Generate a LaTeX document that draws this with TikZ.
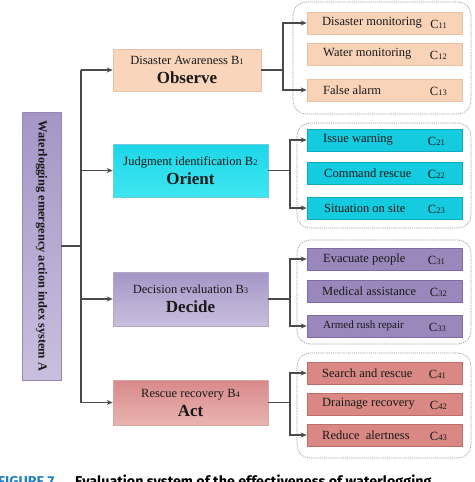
\documentclass[tikz,border=0pt]{standalone}
\usepackage{fontspec}
\setmainfont{Liberation Serif}
\newfontfamily\capfont{Fira Sans}
\usetikzlibrary{arrows.meta}
\definecolor{peachA}{HTML}{F9D5BC}
\definecolor{peachB}{HTML}{F8D3B8}
\definecolor{peachL}{HTML}{E9C0A3}
\definecolor{cyanT}{HTML}{1DD6E7}
\definecolor{cyanB}{HTML}{3FE6F1}
\definecolor{cyanC}{HTML}{14CBDF}
\definecolor{cyanL}{HTML}{0FAABD}
\definecolor{lavT}{HTML}{A596C6}
\definecolor{lavB}{HTML}{C9BFDE}
\definecolor{lavC}{HTML}{9A87BB}
\definecolor{lavL}{HTML}{7E6BA0}
\definecolor{salT}{HTML}{D8898A}
\definecolor{salB}{HTML}{E9B4B0}
\definecolor{salC}{HTML}{D98884}
\definecolor{salL}{HTML}{BE6D69}
\definecolor{lineC}{HTML}{4A4A4A}
\definecolor{grpC}{HTML}{9A9A9A}
\definecolor{capblue}{HTML}{1F7FC1}
\newcommand{\sbs}[1]{{\fontsize{8.5}{8.5}\selectfont #1}}
\newcommand{\btxt}[2]{#1\\{\fontsize{17}{19}\selectfont\bfseries #2}}
\tikzset{
  bnode/.style={draw=#1, line width=0.6pt, minimum width=155pt, align=center, inner sep=0pt, text=black!90, font=\fontsize{12.5}{19}\selectfont},
  cnode/.style={draw=#1, line width=0.6pt, minimum width=155pt, minimum height=22pt, inner sep=0pt},
  ctext/.style={anchor=west, font=\fontsize{12.5}{14}\selectfont, text=black!90, inner sep=0pt},
  clab/.style={anchor=east, font=\fontsize{12.5}{14}\selectfont, text=black!90, inner sep=0pt},
  grp/.style={draw=grpC, line width=0.6pt, dash pattern=on 1.2pt off 0.9pt, rounded corners=13pt, inner sep=0pt},
  ln/.style={draw=lineC, line width=1.1pt},
  arr/.style={ln, -{Stealth[length=6pt, width=5pt]}},
}
\begin{document}
\begin{tikzpicture}[x=1pt,y=-1pt]
\useasboundingbox (0,0) rectangle (474,482);
% dashed groups
\node[grp, minimum width=178pt, minimum height=112pt] (G1) at (382,58) {};
\node[grp, minimum width=174pt, minimum height=105pt] (G2) at (384,175.5) {};
\node[grp, minimum width=174pt, minimum height=104pt] (G3) at (384,292) {};
\node[grp, minimum width=174pt, minimum height=105pt] (G4) at (384,405.5) {};
% A box
\node[draw=lavL!80, line width=0.6pt, top color=lavT, bottom color=lavB, minimum width=39pt, minimum height=268pt, inner sep=0pt] (A) at (41.5,246) {};
\node[rotate=-90, font=\fontsize{12.4}{14}\selectfont\bfseries, text=black!90] (At) at (A.center) {Waterlogging emergency action index system A};
% B boxes
\node[bnode=peachL, fill=peachA, minimum width=148pt, minimum height=42pt] (B1) at (187,70) {\btxt{Disaster Awareness B\sbs{1}}{Observe}};
\node[bnode=cyanL!60, top color=cyanT, bottom color=cyanB, minimum height=53pt] (B2) at (190.5,170.5) {\btxt{Judgment identification B\sbs{2}}{Orient}};
\node[bnode=lavL!60, top color=lavT, bottom color=lavB, minimum height=54pt] (B3) at (190.5,299) {\btxt{Decision evaluation B\sbs{3}}{Decide}};
\node[bnode=salL!60, top color=salT, bottom color=salB, minimum height=45pt] (B4) at (190.5,402.5) {\btxt{Rescue recovery B\sbs{4}}{Act}};
% C boxes
\node[cnode=peachL, fill=peachB] (C11) at (384.5,23) {};
\node[cnode=peachL, fill=peachB] (C12) at (384.5,54) {};
\node[cnode=peachL, fill=peachB] (C13) at (384.5,90) {};
\node[cnode=cyanL, fill=cyanC] (C21) at (384.5,140) {};
\node[cnode=cyanL, fill=cyanC] (C22) at (384.5,173.5) {};
\node[cnode=cyanL, fill=cyanC] (C23) at (384.5,208) {};
\node[cnode=lavL, fill=lavC] (C31) at (384.5,259) {};
\node[cnode=lavL, fill=lavC] (C32) at (384.5,291) {};
\node[cnode=lavL, fill=lavC] (C33) at (384.5,326) {};
\node[cnode=salL, fill=salC] (C41) at (384.5,373) {};
\node[cnode=salL, fill=salC] (C42) at (384.5,404) {};
\node[cnode=salL, fill=salC] (C43) at (384.5,435) {};
% C texts
\node[ctext] (T11) at (322,23) {Disaster monitoring};
\node[clab] (L11) at (447,24) {C\sbs{11}};
\node[ctext] (T12) at (323,54) {Water monitoring};
\node[clab] (L12) at (447,55) {C\sbs{12}};
\node[ctext] (T13) at (323,90) {False alarm};
\node[clab] (L13) at (447,91) {C\sbs{13}};
\node[ctext] (T21) at (323,140) {Issue warning};
\node[clab] (L21) at (445,141) {C\sbs{21}};
\node[ctext] (T22) at (324,173.5) {Command rescue};
\node[clab] (L22) at (445,174.5) {C\sbs{22}};
\node[ctext] (T23) at (324,208) {Situation on site};
\node[clab] (L23) at (445,209) {C\sbs{23}};
\node[ctext] (T31) at (323,259) {Evacuate people};
\node[clab] (L31) at (445,260) {C\sbs{31}};
\node[ctext] (T32) at (322,291) {Medical assistance};
\node[clab] (L32) at (447,292) {C\sbs{32}};
\node[ctext, font=\fontsize{11}{13}\selectfont] (T33) at (323,326) {Armed rush repair};
\node[clab] (L33) at (446,327) {C\sbs{33}};
\node[ctext] (T41) at (322,373) {Search and rescue};
\node[clab] (L41) at (446,374) {C\sbs{41}};
\node[ctext] (T42) at (322,404) {Drainage recovery};
\node[clab] (L42) at (447,405) {C\sbs{42}};
\node[ctext] (T43) at (322,435) {Reduce\ \ alertness};
\node[clab] (L43) at (447,436) {C\sbs{43}};
% trunk connectors
\coordinate (trunk) at (81,0);
\draw[ln] (A.east) -- (A.east -| trunk);
\draw[ln] (trunk |- B1) -- (trunk |- B4);
\foreach \b in {B1,B2,B3,B4} \draw[arr] (trunk |- \b) -- (\b.west);
% branches
\coordinate (br1) at (283,0);
\coordinate (br) at (290,0);
\draw[ln] (B1.east) -- (B1.east -| br1);
\draw[arr] (B1.east -| br1) |- (C11.west);
\draw[arr] (B1.east -| br1) |- (C13.west);
\draw[ln] (B2.east) -- (B2.east -| br);
\draw[arr] (B2.east -| br) |- (C21.west);
\draw[arr] (B2.east -| br) |- (C23.west);
\draw[ln] (B3.east) -- (B3.east -| br);
\draw[arr] (B3.east -| br) |- (C31.west);
\draw[arr] (B3.east -| br) |- (C33.west);
\draw[ln] (B4.east) -- (B4.east -| br);
\draw[arr] (B4.east -| br) |- (C41.west);
\draw[arr] (B4.east -| br) |- (C43.west);
% caption (cut off at the bottom edge, as in the reference)
\node[anchor=base west, inner sep=0pt, font=\capfont\bfseries\fontsize{14.3}{16}\selectfont, text=capblue] (capA) at (-2,486) {FIGURE 7};
\node[anchor=base west, inner sep=0pt, font=\capfont\bfseries\fontsize{14.3}{16}\selectfont, text=black] (capB) at (75,486) {Evaluation system of the effectiveness of waterlogging};
\end{tikzpicture}
\end{document}
